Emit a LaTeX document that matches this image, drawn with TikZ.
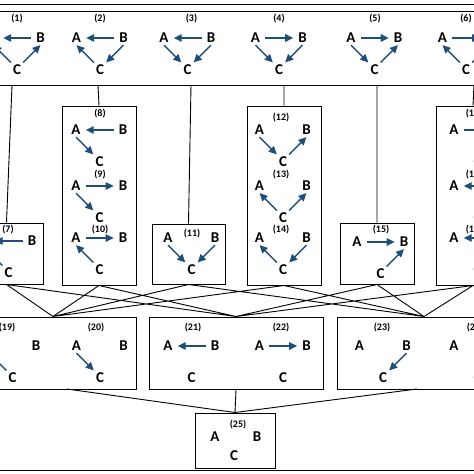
\documentclass[tikz,border=0pt]{standalone}
\usepackage{fontspec}
\setmainfont{Carlito}
\usetikzlibrary{arrows.meta}
\definecolor{arrowblue}{RGB}{31,78,121}
\tikzset{
  vtx/.style={font=\fontsize{15}{15}\selectfont\bfseries, inner sep=2pt,
              text height=9.7pt, text depth=0pt},
  lbl/.style={font=\fontsize{10}{10}\selectfont\bfseries, inner sep=1pt},
  box/.style={draw, line width=1pt, inner sep=0pt},
  link/.style={line width=0.9pt},
  edge/.style={arrowblue, line width=1.4pt, -{Triangle[length=8pt,width=7.5pt]}},
  hedge/.style={edge, shorten <=3pt, shorten >=3pt},
}
\newcommand{\abc}[6]{%
  \node[lbl] (#1l) at (#5,#6)      {(#4)};
  \node[vtx] (#1a) at (#2-23.5,#3) {A};
  \node[vtx] (#1b) at (#2+23.5,#3) {B};
  \node[vtx] (#1c) at (#2,#3+31.5) {C};}

\begin{document}
\begin{tikzpicture}[x=1pt,y=-1pt]
\useasboundingbox (0,0) rectangle (474,474);
\clip (0,0) rectangle (474,474);
\draw[line width=1pt] (-50,4) rectangle (525,470);

\node[box, minimum width=555pt, minimum height=74pt]  (top) at (237.5, 48)   {};
\node[box, minimum width=73pt,  minimum height=61pt]  (m7)  at (  6.5,253.5) {};
\node[box, minimum width=74pt,  minimum height=179pt] (m8)  at ( 99  ,195.5) {};
\node[box, minimum width=73pt,  minimum height=60pt]  (m11) at (188.5,254  ) {};
\node[box, minimum width=74pt,  minimum height=179pt] (m12) at (284  ,195.5) {};
\node[box, minimum width=74pt,  minimum height=61pt]  (m15) at (377  ,253.5) {};
\node[box, minimum width=74pt,  minimum height=179pt] (m16) at (473  ,195.5) {};
\node[box, minimum width=166pt, minimum height=72pt]  (b19) at ( 53  ,353  ) {};
\node[box, minimum width=174pt, minimum height=72pt]  (b21) at (236  ,353  ) {};
\node[box, minimum width=174pt, minimum height=72pt]  (b23) at (424  ,353  ) {};
\node[box, minimum width=80pt,  minimum height=55pt]  (b25) at (235  ,440.5) {};

\coordinate (t1) at ( 12,85);
\coordinate (t2) at ( 98,85);
\coordinate (t3) at (191,85);
\coordinate (t4) at (284,85);
\coordinate (t5) at (377,85);
\coordinate (t6) at (474,85);
\coordinate (s19) at ( 67,389);
\coordinate (s23) at (417,389);

\draw[link] (t1) -- (m7.north)  (t2) -- (m8.north)  (t3) -- (m11.north)
            (t4) -- (m12.north) (t5) -- (m15.north) (t6) -- (m16.north);
\draw[link] (m7.south)  -- (b19.north) (m7.south)  -- (b21.north)
            (m8.south)  -- (b19.north) (m8.south)  -- (b21.north)
            (m11.south) -- (b19.north) (m11.south) -- (b23.north)
            (m12.south) -- (b19.north) (m12.south) -- (b23.north)
            (m15.south) -- (b21.north) (m15.south) -- (b23.north)
            (m16.south) -- (b21.north) (m16.south) -- (b23.north);
\draw[link] (s19) -- (b25.north) (b21.south) -- (b25.north) (s23) -- (b25.north);

\abc{g1}{17}{38}{1}{17}{19}
\abc{g2}{100}{38}{2}{100}{19}
\abc{g3}{187.5}{38}{3}{191.5}{19}
\abc{g4}{279}{38}{4}{279}{19}
\abc{g5}{374.5}{38}{5}{375}{19}
\abc{g6}{466}{38}{6}{466}{19}
\abc{g7}{8.5}{241}{7}{8}{230}
\abc{g8}{99.5}{130}{8}{100}{114}
\abc{g9}{99.5}{186}{9}{100}{175}
\abc{g10}{99.5}{238}{10}{100}{230}
\abc{g11}{191.5}{238}{11}{192}{234}
\abc{g12}{283}{130}{12}{281}{118}
\abc{g13}{283}{186}{13}{281}{175}
\abc{g14}{283}{238}{14}{281}{230}
\abc{g15}{380.5}{242}{15}{381}{230}
\abc{g16}{477.5}{130}{16}{474}{114}
\abc{g17}{477.5}{186}{17}{474}{175}
\abc{g18}{477.5}{238}{18}{474}{230}
\abc{g19}{12.5}{346}{19}{7}{328}
\abc{g20}{100}{346}{20}{96}{328}
\abc{g21}{191.5}{346}{21}{193}{328}
\abc{g22}{283}{346}{22}{281}{328}
\abc{g23}{383}{346}{23}{382}{328}
\abc{g24}{477.5}{346}{24}{475}{328}
\node[lbl] (g25l) at (238,425) {(25)};
\node[vtx] (g25a) at (215,437) {A};
\node[vtx] (g25b) at (257,437) {B};
\node[vtx] (g25c) at (234,456) {C};

% complete graphs
\draw[hedge] (g1b) -- (g1a);
\draw[edge]  (g1c.north east) -- (g1b.south);
\draw[edge]  (g1c.north west) -- (g1a.south);
\draw[hedge] (g2b) -- (g2a);
\draw[edge]  (g2c.north west) -- (g2a.south);
\draw[edge]  (g2b.south) -- (g2c.north east);
\draw[hedge] (g3b) -- (g3a);
\draw[edge]  (g3a.south) -- (g3c.north west);
\draw[edge]  (g3b.south) -- (g3c.north east);
\draw[hedge] (g4a) -- (g4b);
\draw[edge]  (g4a.south) -- (g4c.north west);
\draw[edge]  (g4b.south) -- (g4c.north east);
\draw[hedge] (g5a) -- (g5b);
\draw[edge]  (g5a.south) -- (g5c.north west);
\draw[edge]  (g5c.north east) -- (g5b.south);
\draw[hedge] (g6a) -- (g6b);
\draw[edge]  (g6c.north west) -- (g6a.south);
\draw[edge]  (g6c.north east) -- (g6b.south);

% two edges
\draw[hedge] (g7b) -- (g7a);
\draw[edge]  (g7c.north west) -- (g7a.south);
\draw[hedge] (g8b) -- (g8a);
\draw[edge]  (g8a.south) -- (g8c.north west);
\draw[hedge] (g9a) -- (g9b);
\draw[edge]  (g9a.south) -- (g9c.north west);
\draw[hedge] (g10a) -- (g10b);
\draw[edge]  (g10c.north west) -- (g10a.south);
\draw[edge]  (g11a.south) -- (g11c.north west);
\draw[edge]  (g11b.south) -- (g11c.north east);
\draw[edge]  (g12a.south) -- (g12c.north west);
\draw[edge]  (g12c.north east) -- (g12b.south);
\draw[edge]  (g13c.north west) -- (g13a.south);
\draw[edge]  (g13c.north east) -- (g13b.south);
\draw[edge]  (g14c.north west) -- (g14a.south);
\draw[edge]  (g14b.south) -- (g14c.north east);
\draw[hedge] (g15a) -- (g15b);
\draw[edge]  (g15c.north east) -- (g15b.south);
\draw[hedge] (g16a) -- (g16b);
\draw[edge]  (g16b.south) -- (g16c.north east);
\draw[hedge] (g17b) -- (g17a);
\draw[edge]  (g17c.north east) -- (g17b.south);
\draw[hedge] (g18b) -- (g18a);
\draw[edge]  (g18b.south) -- (g18c.north east);

% one edge
\draw[edge]  (g19c.north west) -- (g19a.south);
\draw[edge]  (g20a.south) -- (g20c.north west);
\draw[hedge] (g21b) -- (g21a);
\draw[hedge] (g22a) -- (g22b);
\draw[edge]  (g23b.south) -- (g23c.north east);
\draw[edge]  (g24c.north east) -- (g24b.south);
\end{tikzpicture}
\end{document}
